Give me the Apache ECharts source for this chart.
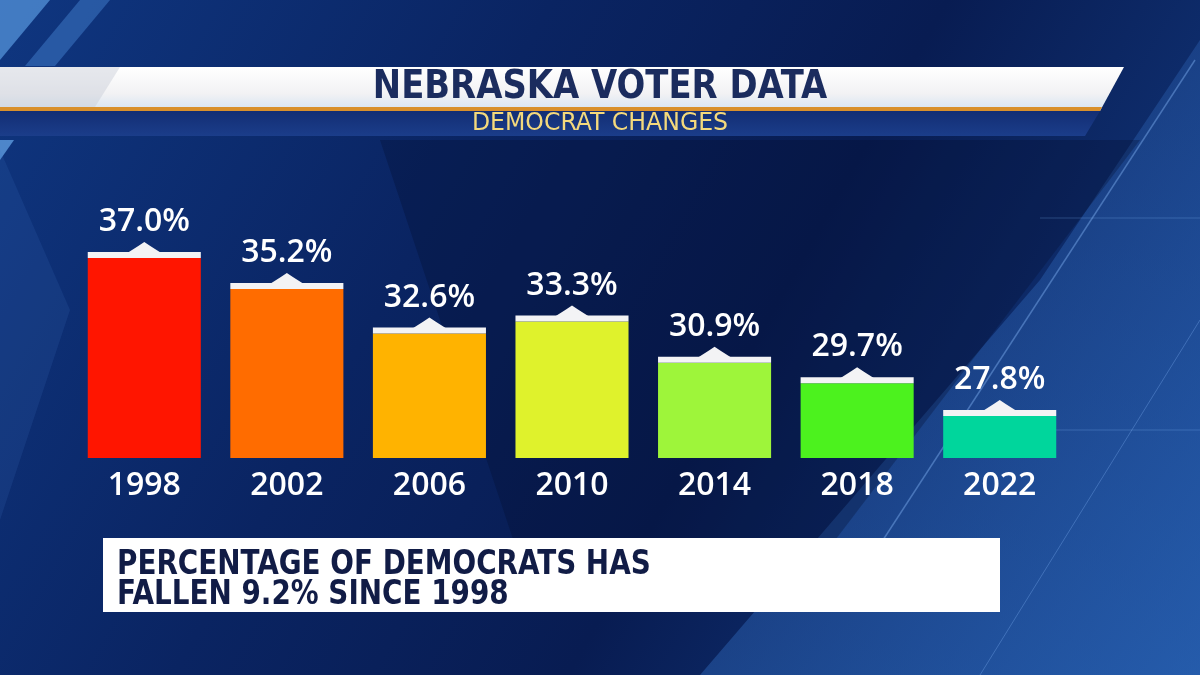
<!DOCTYPE html>
<html>
<head>
<meta charset="utf-8">
<title>Nebraska Voter Data</title>
<script src="https://cdn.jsdelivr.net/npm/echarts@6/dist/echarts.min.js"></script>
<style>
  html, body { margin: 0; padding: 0; background: #0a2260; }
  #chart { width: 1200px; height: 675px; }
</style>
</head>
<body>
<div id="chart"></div>
<script>
/* ---------------- data ---------------- */
let years = ['1998', '2002', '2006', '2010', '2014', '2018', '2022'];
let democratShare = [37.0, 35.2, 32.6, 33.3, 30.9, 29.7, 27.8];
let barColors = ['#ff1500', '#ff6c00', '#ffb300', '#dff22c', '#9ef53a', '#4cf21e', '#00d69c'];

let titleText = 'NEBRASKA VOTER DATA';
let subtitleText = 'DEMOCRAT CHANGES';
let noteLines = ['PERCENTAGE OF DEMOCRATS HAS', 'FALLEN 9.2% SINCE 1998'];

let narrowFont = '"DejaVu Sans Condensed", "DejaVu Sans", sans-serif';

/* ---------------- bar with white cap + little peak ---------------- */
let renderBar = function (params, api) {
    let top = api.coord([api.value(0), api.value(1)]);
    let base = api.coord([api.value(0), 25]);
    let w = api.size([1, 0])[0] * 0.793;
    let cx = top[0];
    let capH = 6;
    return {
        type: 'group',
        children: [
            {
                type: 'rect',
                shape: { x: cx - w / 2, y: top[1] + capH, width: w, height: base[1] - top[1] - capH },
                style: { fill: barColors[params.dataIndex] }
            },
            {
                type: 'rect',
                shape: { x: cx - w / 2, y: top[1], width: w, height: capH },
                style: { fill: '#f3f3f5' }
            },
            {
                type: 'polygon',
                shape: { points: [[cx - 17, top[1] + 1], [cx - 6, top[1] - 6], [cx, top[1] - 10], [cx + 6, top[1] - 6], [cx + 17, top[1] + 1]] },
                style: { fill: '#f3f3f5' }
            },
            {
                type: 'text',
                x: cx,
                y: top[1] - 30,
                style: {
                    text: api.value(1).toFixed(1) + '%',
                    fill: '#ffffff',
                    font: '600 32px "Open Sans"',
                    align: 'center',
                    verticalAlign: 'middle'
                }
            }
        ]
    };
};

/* ---------------- background pieces ---------------- */
let bgGraphics = [
    {
        type: 'rect', z: -10, silent: true,
        shape: { x: 0, y: 0, width: 1200, height: 675 },
        style: {
            fill: new echarts.graphic.LinearGradient(0, 0, 1, 1, [
                { offset: 0, color: '#0f3680' },
                { offset: 0.35, color: '#0a2462' },
                { offset: 0.6, color: '#081c52' },
                { offset: 1, color: '#153f88' }
            ])
        }
    },
    // lighter blue slab on the right
    {
        type: 'polygon', z: -9, silent: true,
        shape: { points: [[1200, 40], [1200, 675], [700, 675], [1040, 280]] },
        style: {
            fill: new echarts.graphic.LinearGradient(0, 0, 1, 1, [
                { offset: 0, color: 'rgba(50,105,190,0.18)' },
                { offset: 1, color: 'rgba(50,115,200,0.55)' }
            ])
        }
    },
    // dark center wedge
    {
        type: 'polygon', z: -9, silent: true,
        shape: { points: [[380, 140], [1140, 140], [820, 560], [520, 560]] },
        style: { fill: 'rgba(2,12,45,0.3)' }
    },
    // top-left light streaks
    {
        type: 'polygon', z: -9, silent: true,
        shape: { points: [[0, 0], [50, 0], [0, 60]] },
        style: { fill: 'rgba(110,180,250,0.55)' }
    },
    {
        type: 'polygon', z: -9, silent: true,
        shape: { points: [[80, 0], [110, 0], [55, 66], [25, 66]] },
        style: { fill: 'rgba(90,160,240,0.35)' }
    },
    {
        type: 'polygon', z: -9, silent: true,
        shape: { points: [[0, 140], [14, 140], [0, 160]] },
        style: { fill: 'rgba(120,190,255,0.6)' }
    },
    // left lighter panel
    {
        type: 'polygon', z: -9, silent: true,
        shape: { points: [[0, 150], [70, 310], [0, 520]] },
        style: { fill: 'rgba(70,120,200,0.15)' }
    },
    // thin diagonal lines
    {
        type: 'polyline', z: -8, silent: true,
        shape: { points: [[1195, 60], [870, 560]] },
        style: { stroke: 'rgba(140,190,255,0.4)', lineWidth: 1.5 }
    },
    {
        type: 'polyline', z: -8, silent: true,
        shape: { points: [[1200, 320], [980, 675]] },
        style: { stroke: 'rgba(140,190,255,0.3)', lineWidth: 1 }
    },
    {
        type: 'polyline', z: -8, silent: true,
        shape: { points: [[1040, 218], [1200, 218]] },
        style: { stroke: 'rgba(140,190,255,0.25)', lineWidth: 1 }
    },
    {
        type: 'polyline', z: -8, silent: true,
        shape: { points: [[1010, 430], [1200, 430]] },
        style: { stroke: 'rgba(140,190,255,0.25)', lineWidth: 1 }
    }
];

/* ---------------- header banner ---------------- */
let headerGraphics = [
    {
        type: 'polygon', z: 5,
        shape: { points: [[0, 111], [1100, 111], [1085, 136], [0, 136]] },
        style: {
            fill: new echarts.graphic.LinearGradient(0, 0, 0, 1, [
                { offset: 0, color: '#132e74' },
                { offset: 1, color: '#1b3d8a' }
            ])
        }
    },
    {
        type: 'polygon', z: 6,
        shape: { points: [[0, 67], [1124, 67], [1100, 111], [0, 111]] },
        style: {
            fill: new echarts.graphic.LinearGradient(0, 0, 0, 1, [
                { offset: 0, color: '#ffffff' },
                { offset: 0.6, color: '#f2f2f4' },
                { offset: 0.9, color: '#dde7f2' },
                { offset: 1, color: '#dde7f2' }
            ])
        }
    },
    {
        type: 'polygon', z: 6,
        shape: { points: [[0, 67], [120, 67], [95, 107], [0, 107]] },
        style: { fill: 'rgba(200,205,215,0.45)' }
    },
    {
        type: 'polygon', z: 7,
        shape: { points: [[0, 107], [1102, 107], [1100, 111], [0, 111]] },
        style: { fill: '#d9902c' }
    },
    {
        // scale is around the element's own origin (local 0,0)
        type: 'text', z: 8,
        x: 600, y: 88, scaleX: 0.965, originX: 0,
        style: {
            text: titleText,
            fill: '#1b2c5e',
            font: 'bold 39px ' + narrowFont,
            align: 'center',
            verticalAlign: 'middle'
        }
    },
    {
        type: 'text', z: 8,
        x: 600, y: 123, scaleX: 1.05, originX: 0,
        style: {
            text: subtitleText,
            fill: '#f4d97c',
            font: '25px ' + narrowFont,
            align: 'center',
            verticalAlign: 'middle'
        }
    }
];

/* ---------------- bottom note box ---------------- */
let noteGraphics = [
    {
        type: 'rect', z: 5,
        shape: { x: 103, y: 538, width: 897, height: 74 },
        style: { fill: '#ffffff' }
    },
    {
        type: 'text', z: 6,
        x: 117, y: 565, scaleX: 0.91, originX: 0,
        style: {
            text: noteLines[0],
            fill: '#111c46',
            font: 'bold 34px ' + narrowFont,
            align: 'left',
            verticalAlign: 'middle'
        }
    },
    {
        type: 'text', z: 6,
        x: 117, y: 595, scaleX: 0.91, originX: 0,
        style: {
            text: noteLines[1],
            fill: '#111c46',
            font: 'bold 34px ' + narrowFont,
            align: 'left',
            verticalAlign: 'middle'
        }
    }
];

/* ---------------- option ---------------- */
let option = {
    backgroundColor: '#0a2260',
    animation: false,
    graphic: bgGraphics.concat(headerGraphics, noteGraphics),
    grid: {
        left: 73,
        right: 129,
        top: 252,
        bottom: 217
    },
    xAxis: {
        type: 'category',
        data: years,
        axisLine: { show: false },
        axisTick: { show: false },
        axisLabel: {
            color: '#ffffff',
            fontFamily: 'Open Sans',
            fontWeight: 600,
            fontSize: 32,
            margin: 12
        }
    },
    yAxis: {
        type: 'value',
        min: 25,
        max: 37,
        show: false,
        splitLine: { show: false }
    },
    series: [
        {
            type: 'custom',
            renderItem: renderBar,
            data: years.map((y, i) => [y, democratShare[i]]),
            encode: { x: 0, y: 1 },
            z: 3
        }
    ]
};

let myChart = echarts.init(document.querySelector('#chart'));
myChart.setOption(option);
</script>
</body>
</html>
